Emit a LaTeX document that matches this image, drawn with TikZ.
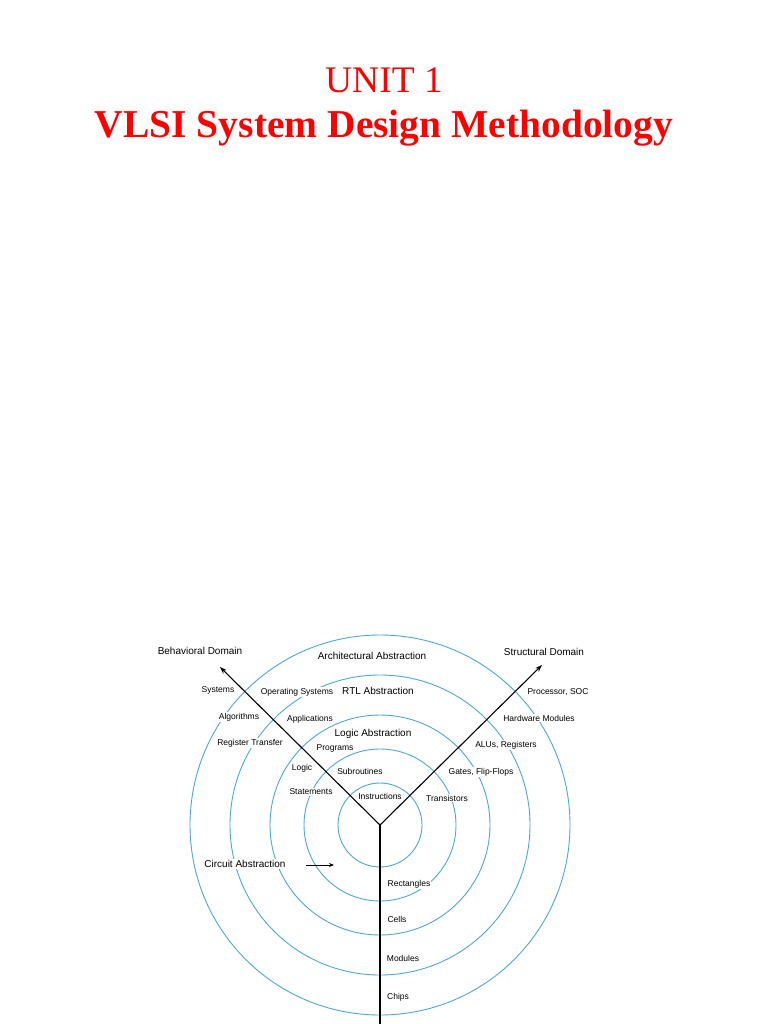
\documentclass[tikz,border=0pt]{standalone}
\usepackage{fontspec}
\setmainfont{Liberation Sans}
\newfontfamily\titlefont{Liberation Serif}
\usetikzlibrary{arrows.meta}
\definecolor{ring}{HTML}{4AA8D8}
\definecolor{tred}{HTML}{FF0000}
\begin{document}
\begin{tikzpicture}[x=1pt,y=-1pt,
  lbl/.style={font=\fontsize{8.5}{9}\selectfont,inner sep=1pt,fill=white},
  abs/.style={font=\fontsize{10}{11}\selectfont,inner sep=1pt,fill=white},
  ringline/.style={draw=ring,line width=0.9pt},
  axis/.style={draw=black,line width=1.1pt}]
\useasboundingbox (0,0) rectangle (768,1024);
\node[text=tred,font=\titlefont\fontsize{37.5}{40}\selectfont] (t1) at (384,80) {UNIT 1};
\node[text=tred,font=\titlefont\bfseries\fontsize{39.5}{42}\selectfont] (t2) at (384,128) {VLSI System Design Methodology};
\coordinate (c) at (380,825);
\foreach \r in {42,76,110,150,190} \draw[ringline] (c) circle[radius=\r];
\coordinate (bl) at (220,667);
\coordinate (sr) at (542,665);
\coordinate (bot) at (380,1024);
\node[abs] (bd) at (200,651) {Behavioral Domain};
\node[abs] (aa) at (372,656) {Architectural Abstraction};
\node[abs] (sd) at (544,652) {Structural Domain};
\node[lbl] (sy) at (218,690) {Systems};
\node[lbl] (os) at (297,692) {Operating Systems};
\node[abs] (rtl) at (378,691) {RTL Abstraction};
\node[lbl] (ps) at (558,692) {Processor, SOC};
\node[lbl] (al) at (239,717) {Algorithms};
\node[lbl] (ap) at (310,719) {Applications};
\node[lbl] (hm) at (539,718) {Hardware Modules};
\node[lbl] (rt) at (250,743) {Register Transfer};
\node[abs] (la) at (373,734) {Logic Abstraction};
\node[lbl] (pr) at (335,748) {Programs};
\node[lbl] (alu) at (506,745) {ALUs, Registers};
\node[lbl] (lo) at (302,768) {Logic};
\node[lbl] (su) at (360,771) {Subroutines};
\node[lbl] (gf) at (481,772) {Gates, Flip-Flops};
\node[lbl] (st) at (311,792) {Statements};
\node[lbl] (in) at (380,796) {Instructions};
\node[lbl] (tr) at (447,798) {Transistors};
\node[abs] (ca) at (245,864) {Circuit Abstraction};
\coordinate (ca1) at (306,865);
\coordinate (ca2) at (334,865);
\draw[line width=0.8pt,-{Stealth[length=5pt,width=4pt]}] (ca1) -- (ca2);
\node[lbl] (re) at (409,884) {Rectangles};
\node[lbl] (ce) at (397,919) {Cells};
\node[lbl] (mo) at (403,958) {Modules};
\node[lbl] (ch) at (398,997) {Chips};
\draw[axis,-{Stealth[length=7pt,width=5pt]}] (c) -- (bl);
\draw[axis,-{Stealth[length=7pt,width=5pt]}] (c) -- (sr);
\draw[axis] (c) -- (bot);
\end{tikzpicture}
\end{document}
